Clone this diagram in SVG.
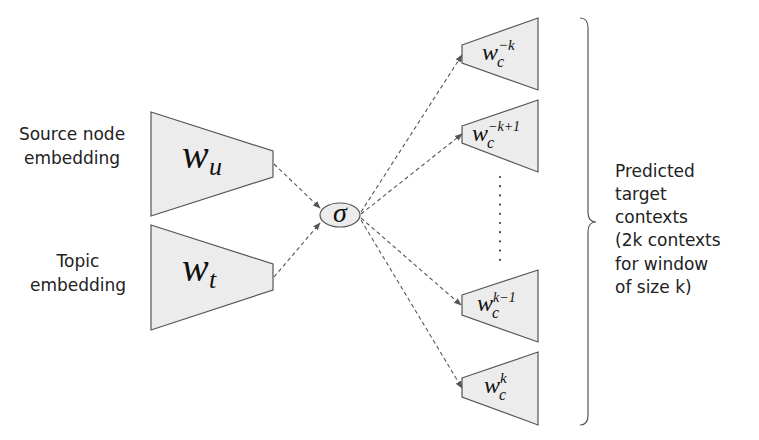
<svg xmlns="http://www.w3.org/2000/svg" width="759" height="440" viewBox="0 0 759 440">
<style>
.trap{fill:#ececec;stroke:#555;stroke-width:1.2}
.lab{font-family:"DejaVu Sans","Noto Sans",sans-serif;font-size:17px;fill:#222}
.m{font-family:"Liberation Serif",serif;font-style:italic;fill:#111}
.c{fill:none;stroke:#555;stroke-width:1.1;stroke-dasharray:4 3}
</style>
<defs><marker id="a" viewBox="0 0 10 10" refX="9" refY="5" markerWidth="7" markerHeight="7" orient="auto"><path d="M0,1L10,5L0,9z" fill="#555"/></marker></defs>
<rect width="759" height="440" fill="#fff"/>
<g id="wu"><polygon class="trap" points="151,112 273,151 273,177 151,216"/><text class="m" x="182" y="168" font-size="40">w</text><text class="m" x="209" y="175" font-size="26">u</text></g>
<g id="wt"><polygon class="trap" points="151,225 273,264 273,290 151,330"/><text class="m" x="182" y="281" font-size="40">w</text><text class="m" x="209" y="288" font-size="26">t</text></g>
<g id="sigma"><ellipse cx="340" cy="215" rx="20" ry="12" fill="#ececec" stroke="#555" stroke-width="1.2"/><text class="m" x="340" y="222" font-size="28" text-anchor="middle">σ</text></g>
<g id="c1"><polygon class="trap" points="462,45 538,18 538,90 462,63"/><text class="m" x="482" y="60" font-size="24">w</text><text class="m" x="497" y="67" font-size="16">c</text><text class="m" x="498" y="50" font-size="15">−k</text></g>
<g id="c2"><polygon class="trap" points="462,126 538,100 538,172 462,143"/><text class="m" x="472" y="141" font-size="24">w</text><text class="m" x="487" y="148" font-size="16">c</text><text class="m" x="488" y="131" font-size="14">−k+1</text></g>
<g id="c3"><polygon class="trap" points="462,295 538,270 538,342 462,315"/><text class="m" x="477" y="311" font-size="24">w</text><text class="m" x="492" y="318" font-size="16">c</text><text class="m" x="493" y="302" font-size="14">k−1</text></g>
<g id="c4"><polygon class="trap" points="462,378 538,352 538,425 462,397"/><text class="m" x="484" y="393" font-size="24">w</text><text class="m" x="499" y="400" font-size="16">c</text><text class="m" x="500" y="383" font-size="15">k</text></g>
<line x1="500" y1="177" x2="500" y2="260" stroke="#444" stroke-width="2.2" stroke-dasharray="0 9.2" stroke-linecap="round"/>
<g id="connectors">
<line class="c" x1="274" y1="164" x2="320" y2="208" marker-end="url(#a)"/>
<line class="c" x1="274" y1="277" x2="320" y2="223" marker-end="url(#a)"/>
<line class="c" x1="361" y1="212" x2="462" y2="55" marker-end="url(#a)"/>
<line class="c" x1="361" y1="214" x2="462" y2="134" marker-end="url(#a)"/>
<line class="c" x1="361" y1="218" x2="461" y2="305" marker-end="url(#a)"/>
<line class="c" x1="361" y1="220" x2="462" y2="388" marker-end="url(#a)"/>
</g>
<path d="M580,18 Q588,18 588,28 L588,212 Q588,222 596,222 Q588,222 588,232 L588,415 Q588,425 580,425" fill="none" stroke="#555" stroke-width="1.2"/>
<g id="labels" class="lab">
<text x="72" y="140" text-anchor="middle">Source node</text>
<text x="72" y="164" text-anchor="middle">embedding</text>
<text x="78" y="267" text-anchor="middle">Topic</text>
<text x="78" y="291" text-anchor="middle">embedding</text>
<text x="615" y="177">Predicted</text>
<text x="615" y="200">target</text>
<text x="615" y="223">contexts</text>
<text x="615" y="246">(2k contexts</text>
<text x="615" y="270">for window</text>
<text x="615" y="293">of size k)</text>
</g>
</svg>
